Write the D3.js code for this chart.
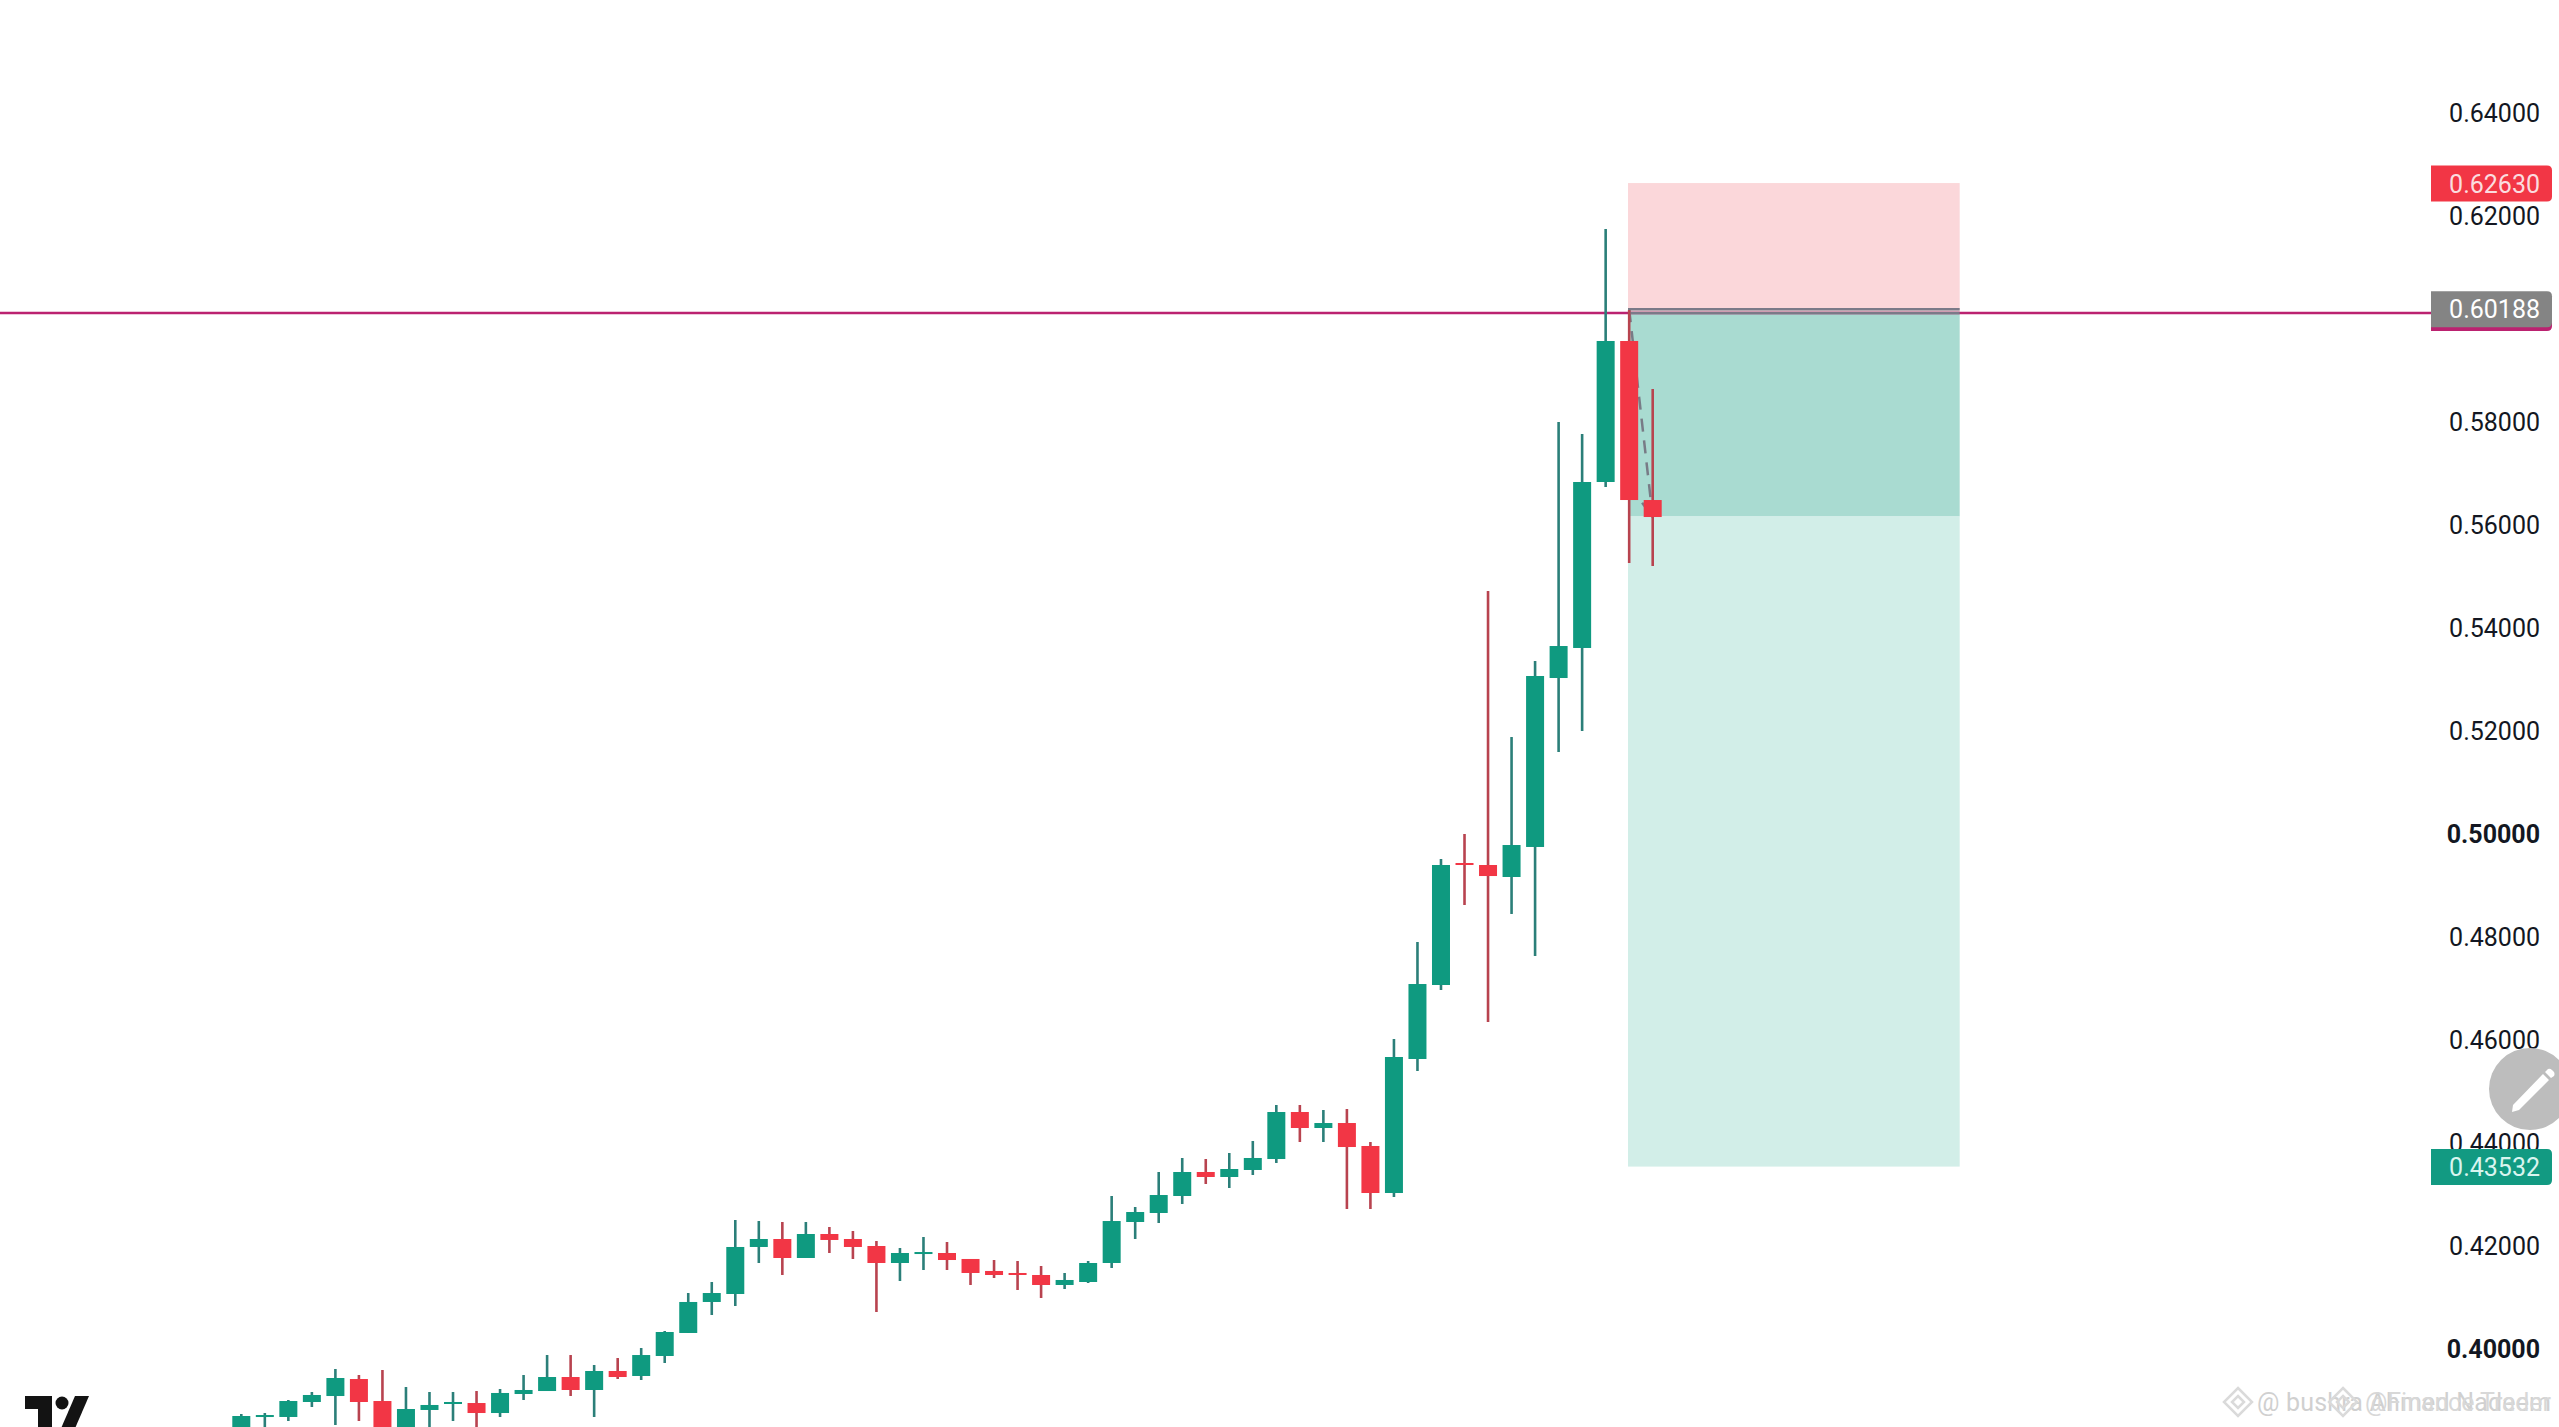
<!DOCTYPE html>
<html>
<head>
<meta charset="utf-8">
<style>
  html, body { margin: 0; padding: 0; background: #fff; overflow: hidden; }
  svg { display: block; }
  text { font-family: Roboto, sans-serif; }
</style>
</head>
<body>
<div id="chart"></div>
<script src="https://cdn.jsdelivr.net/npm/d3@7"></script>
<script>
// candles, oldest first. the first few run off the bottom of the picture
const opens = [
  0.38388, 0.3868, 0.3868, 0.38971, 0.39087, 0.39417, 0.3899, 0.38233, 0.38816, 0.38932,
  0.38951, 0.38757, 0.39126, 0.39184, 0.39456, 0.39204, 0.39573, 0.39476, 0.39864, 0.40311,
  0.40913, 0.41068, 0.41981, 0.42136, 0.41767, 0.42233, 0.42136, 0.42, 0.4167, 0.41845,
  0.41864, 0.41748, 0.41515, 0.41476, 0.41437, 0.41243, 0.41301, 0.4167, 0.42466, 0.42641,
  0.42971, 0.43437, 0.4334, 0.43476, 0.43689, 0.44602, 0.44291, 0.44388, 0.43942, 0.43029,
  0.45631, 0.47068, 0.49437, 0.49398, 0.49165, 0.49748, 0.53029, 0.53612, 0.56835, 0.59573,
  0.56485,
];
const highs = [
  0.38738, 0.38757, 0.3901, 0.39165, 0.39612, 0.39495, 0.39592, 0.39262, 0.39165, 0.39165,
  0.39184, 0.39223, 0.39495, 0.39883, 0.39883, 0.39689, 0.39825, 0.40019, 0.4035, 0.41087,
  0.41301, 0.42505, 0.42485, 0.42466, 0.42466, 0.42369, 0.42291, 0.42097, 0.41961, 0.42175,
  0.42078, 0.41748, 0.41728, 0.41709, 0.41612, 0.41476, 0.41709, 0.42971, 0.42757, 0.43437,
  0.43709, 0.43689, 0.43806, 0.44039, 0.44738, 0.44738, 0.44641, 0.4466, 0.44019, 0.46019,
  0.47903, 0.49515, 0.5, 0.54718, 0.51883, 0.53359, 0.58, 0.57767, 0.61748, 0.60175,
  0.58641,
];
const lows = [
  0.38233, 0.38388, 0.38602, 0.38874, 0.38524, 0.38602, 0.38136, 0.38136, 0.38388, 0.38602,
  0.38388, 0.3868, 0.3901, 0.39184, 0.39087, 0.3868, 0.39417, 0.39398, 0.39728, 0.40311,
  0.4066, 0.40835, 0.4167, 0.41437, 0.41767, 0.41864, 0.41748, 0.40718, 0.4132, 0.41534,
  0.41534, 0.41243, 0.41379, 0.41146, 0.4099, 0.41165, 0.41282, 0.41573, 0.42136, 0.42447,
  0.42816, 0.43204, 0.43126, 0.43379, 0.43612, 0.44019, 0.44019, 0.42718, 0.42718, 0.42951,
  0.45398, 0.46971, 0.48621, 0.4635, 0.48447, 0.47631, 0.51592, 0.52, 0.56738, 0.55262,
  0.55204,
];
const closes = [
  0.38699, 0.38718, 0.3899, 0.39107, 0.39437, 0.38971, 0.38233, 0.38835, 0.38913, 0.38971,
  0.38757, 0.39146, 0.39204, 0.39456, 0.39204, 0.39573, 0.39456, 0.39883, 0.4033, 0.40913,
  0.41087, 0.41981, 0.42136, 0.41767, 0.42233, 0.42117, 0.41981, 0.4167, 0.41864, 0.41883,
  0.41728, 0.41476, 0.41437, 0.41437, 0.41243, 0.4134, 0.4167, 0.42485, 0.4266, 0.4299,
  0.43437, 0.4334, 0.43495, 0.43709, 0.44602, 0.44291, 0.44388, 0.43922, 0.43029, 0.4567,
  0.47087, 0.49398, 0.49398, 0.49184, 0.49786, 0.53068, 0.5365, 0.56835, 0.59573, 0.56485,
  0.56155,
];

// price axis
const tickValues = [0.4, 0.42, 0.44, 0.46, 0.48, 0.5, 0.52, 0.54, 0.56, 0.58, 0.6, 0.62, 0.64];
const boldTicks = [0.4, 0.5];

// short position drawing and price lines
const stopPrice = 0.6263;
const entryPrice = 0.60188;
const linePrice = 0.60117;
const lastPrice = 0.56155;
const targetPrice = 0.43532;
const toolStartIndex = 58.95;
const toolEndIndex = 73.05;

const width = 2559;
const height = 1427;

const green = "#0f9a80";
const red = "#f23645";
const greenWick = "#2b7f79";
const redWick = "#b8434f";
const magenta = "#bb2270";

const svg = d3
  .select("#chart")
  .append("svg")
  .attr("width", width)
  .attr("height", height)
  .attr("viewBox", `0 0 ${width} ${height}`);

// scale
const x = d3.scaleLinear().domain([0, 60]).range([241.3, 1652.7]);
const y = d3.scaleLinear().domain([0.4, 0.64]).range([1349, 113]);

const candles = opens.map((d, i) => ({
  i: i,
  open: d,
  high: highs[i],
  low: lows[i],
  close: closes[i],
  up: closes[i] >= d,
}));

// position zones
const zones = [
  { top: stopPrice, bottom: linePrice, color: "#fbd7da" },
  { top: linePrice, bottom: lastPrice, color: "#a9dbd1" },
  { top: lastPrice, bottom: targetPrice, color: "#d2eee8" },
];

svg
  .selectAll(".zone")
  .data(zones)
  .enter()
  .append("rect")
  .attr("class", "zone")
  .attr("x", x(toolStartIndex))
  .attr("width", x(toolEndIndex) - x(toolStartIndex))
  .attr("y", (d) => y(d.top) - 0.5)
  .attr("height", (d) => y(d.bottom) - y(d.top))
  .attr("fill", (d) => d.color);

// horizontal line
svg
  .append("line")
  .attr("x1", 0)
  .attr("x2", 2431)
  .attr("y1", y(linePrice))
  .attr("y2", y(linePrice))
  .attr("stroke", magenta)
  .attr("stroke-width", 2.4);

// tool lines on top of it
[entryPrice, linePrice].forEach((p) => {
  svg
    .append("line")
    .attr("x1", x(toolStartIndex))
    .attr("x2", x(toolEndIndex))
    .attr("y1", y(p))
    .attr("y2", y(p))
    .attr("stroke", "#7b7a88")
    .attr("stroke-width", 2.6);
});

// dashed move line with arrow head
svg
  .append("line")
  .attr("x1", x(59))
  .attr("y1", y(entryPrice))
  .attr("x2", x(60))
  .attr("y2", y(lastPrice))
  .attr("stroke", "#787b86")
  .attr("stroke-width", 2.5)
  .attr("stroke-dasharray", "13 9");

svg
  .append("line")
  .attr("x1", x(59.55))
  .attr("y1", y(0.5643))
  .attr("x2", x(60))
  .attr("y2", y(lastPrice))
  .attr("stroke", "#787b86")
  .attr("stroke-width", 2.5);

// candles
const candle = svg
  .selectAll(".candle")
  .data(candles)
  .enter()
  .append("g")
  .attr("class", "candle");

candle
  .append("line")
  .attr("x1", (d) => x(d.i))
  .attr("x2", (d) => x(d.i))
  .attr("y1", (d) => y(d.high))
  .attr("y2", (d) => y(d.low))
  .attr("stroke", (d) => (d.up ? greenWick : redWick))
  .attr("stroke-width", 2.6);

candle
  .append("rect")
  .attr("x", (d) => x(d.i) - 9)
  .attr("width", 18)
  .attr("y", (d) => y(Math.max(d.open, d.close)))
  .attr("height", (d) => Math.max(2, Math.abs(y(d.open) - y(d.close))))
  .attr("fill", (d) => (d.up ? green : red));

// price axis
const yAxis = d3
  .axisRight(y)
  .tickValues(tickValues)
  .tickFormat(d3.format(".5f"))
  .tickSize(0)
  .tickPadding(0);

const axisG = svg.append("g").attr("transform", "translate(2540,0)").call(yAxis);
axisG.select(".domain").remove();
axisG
  .selectAll("text")
  .attr("text-anchor", "end")
  .attr("font-size", 25)
  .attr("font-family", "Roboto, sans-serif")
  .attr("font-weight", (d) => (boldTicks.includes(d) ? 700 : 400))
  .attr("fill", "#131722");

// price labels, the magenta one sits under the gray one
const priceLabels = [
  { price: linePrice, color: magenta, text: "#fff" },
  { price: stopPrice, color: "#f23645", text: "#fbdcdf" },
  { price: entryPrice, color: "#848484", text: "#fff" },
  { price: targetPrice, color: "#129a82", text: "#d9f5ef" },
];

const labelPath = (cy) => {
  const h = 18;
  const r = 5;
  return `M2431,${cy - h}H${2552 - r}Q2552,${cy - h} 2552,${cy - h + r}V${cy + h - r}Q2552,${cy + h} ${2552 - r},${cy + h}H2431Z`;
};

const label = svg
  .selectAll(".price-label")
  .data(priceLabels)
  .enter()
  .append("g")
  .attr("class", "price-label");

label
  .append("path")
  .attr("d", (d) => labelPath(y(d.price)))
  .attr("fill", (d) => d.color);

label
  .filter((d) => d.price !== linePrice)
  .append("text")
  .attr("x", 2540)
  .attr("y", (d) => y(d.price))
  .attr("dy", "0.36em")
  .attr("text-anchor", "end")
  .attr("font-size", 25)
  .attr("fill", (d) => d.text)
  .text((d) => d3.format(".5f")(d.price));

// pencil button
const pencil = svg.append("g").attr("transform", "translate(2530,1089)");
pencil.append("circle").attr("r", 41).attr("fill", "#bdbdbd");
pencil
  .append("path")
  .attr("d", "M-17,16 L13,-15 L19,-9 L-11,21 L-18,23 Z M15,-17 L18,-20 Q20,-21 22,-19 L24,-17 Q25,-15 24,-13 L21,-11 Z")
  .attr("fill", "#fff");

// logo
const logo = svg.append("g").attr("fill", "#131313");
logo.append("path").attr("d", "M25,1396H52V1440H38V1409H25Z");
logo.append("circle").attr("cx", 62).attr("cy", 1403).attr("r", 6.5);
logo.append("path").attr("d", "M75,1396H89L70,1440H56Z");

// watermarks, both end at the same place on the right
const watermarks = [
  { x: 2238, name: "@ bushra Ahmed Nadeem", textX: 2257, span: 294, color: "#d0d0d0" },
  { x: 2343, name: "@Finance Trader", textX: 2365, span: 186, color: "#d8d8d8" },
];

const mark = svg.selectAll(".mark").data(watermarks).enter().append("g").attr("class", "mark");

mark
  .append("path")
  .attr("d", (d) => `M${d.x},1388L${d.x + 14},1402L${d.x},1416L${d.x - 14},1402Z M${d.x},1396L${d.x + 6},1402L${d.x},1408L${d.x - 6},1402Z`)
  .attr("fill", "none")
  .attr("stroke", "#dadada")
  .attr("stroke-width", 2.5);

mark
  .append("text")
  .attr("x", (d) => d.textX)
  .attr("y", 1411)
  .attr("font-size", 25)
  .attr("textLength", (d) => d.span)
  .attr("lengthAdjust", "spacing")
  .attr("fill", (d) => d.color)
  .text((d) => d.name);
</script>
</body>
</html>
